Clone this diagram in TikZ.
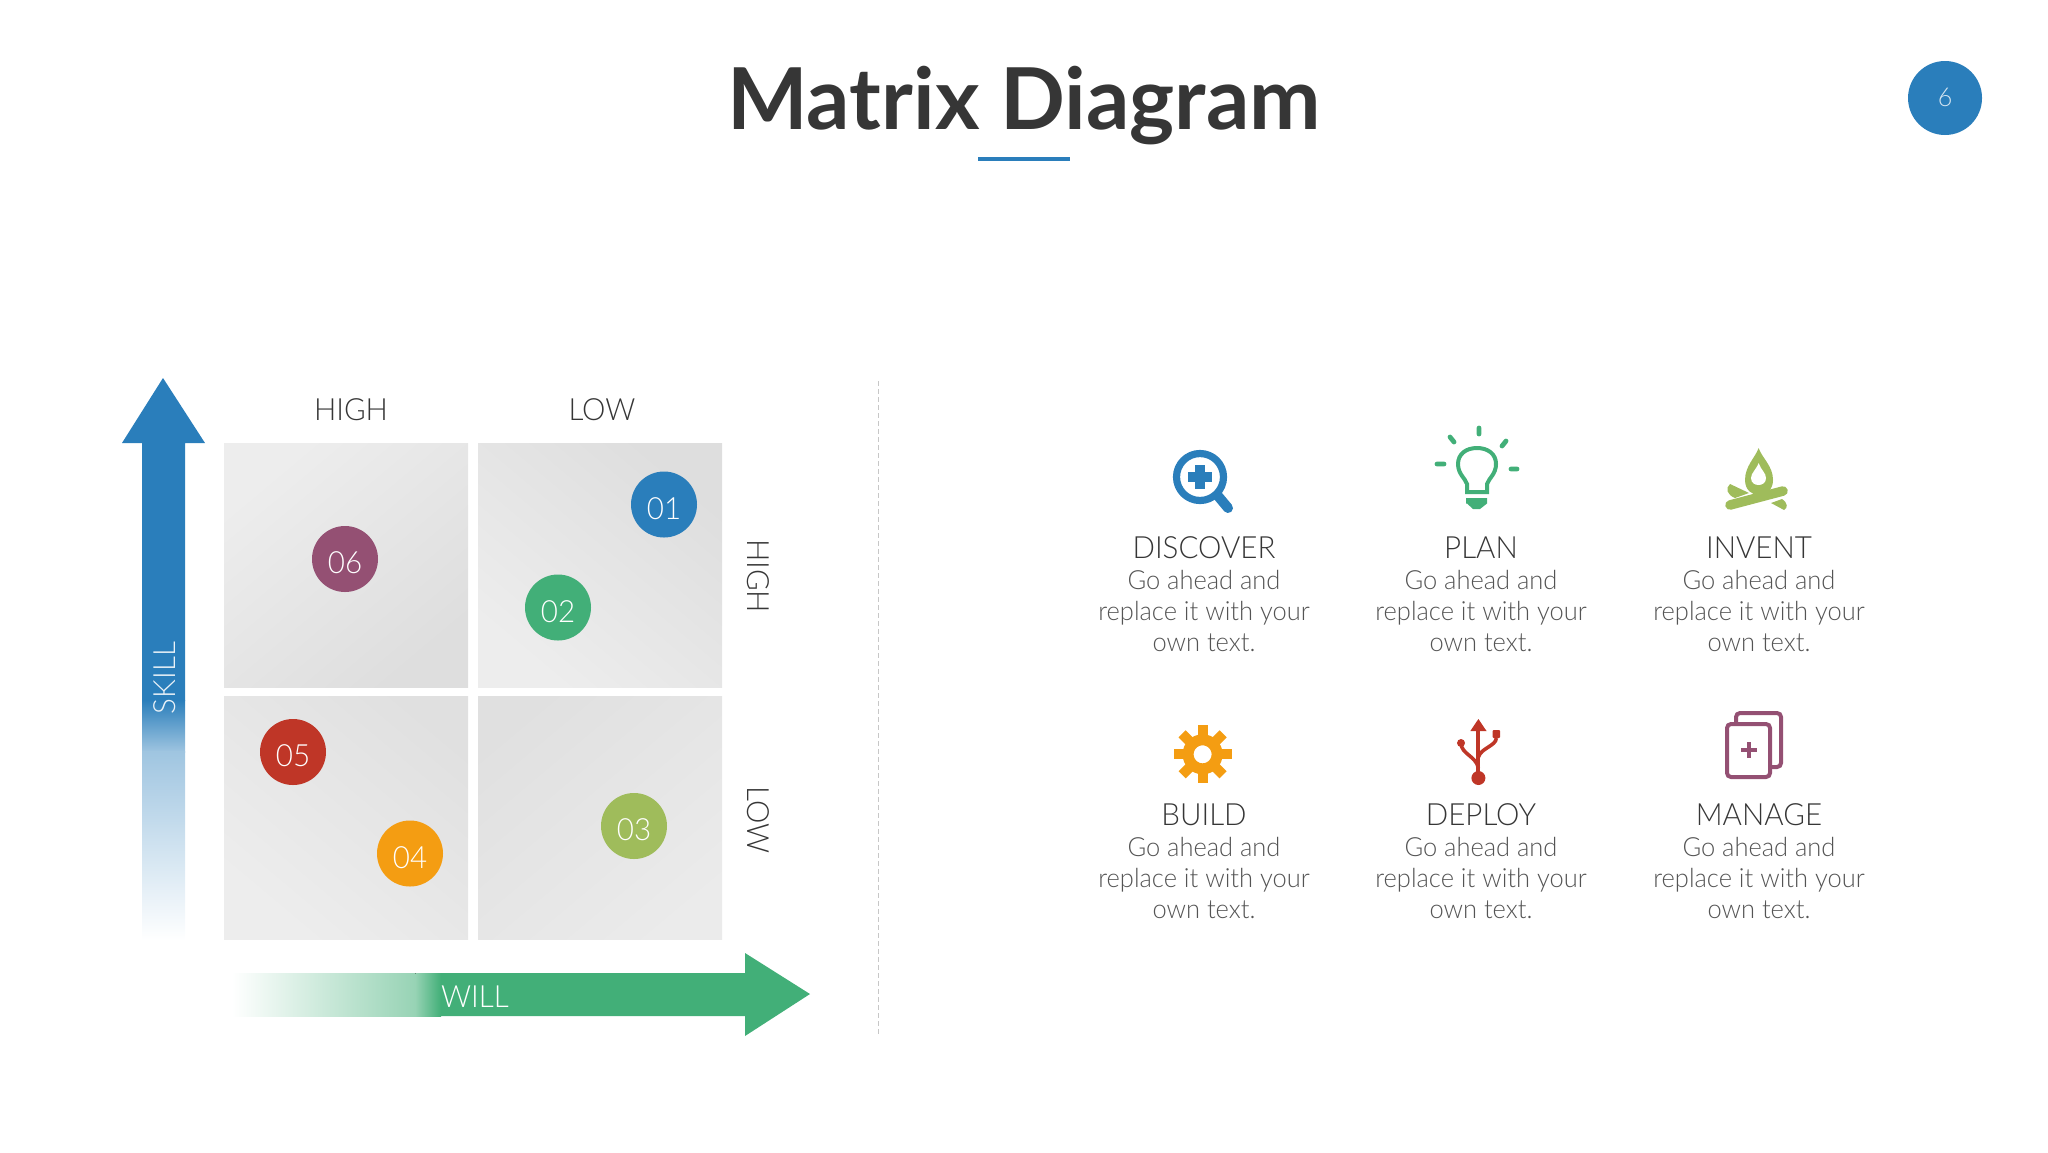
\documentclass[tikz,border=0pt]{standalone}
\usepackage{fontspec}
\setmainfont{Lato}
\newfontfamily\lightfont[FakeStretch=.965]{Lato Light}
\usetikzlibrary{calc}
\definecolor{ink}{HTML}{363636}
\definecolor{mblue}{HTML}{2A7EBB}
\definecolor{mgreen}{HTML}{42AF78}
\definecolor{mlime}{HTML}{9FBC5B}
\definecolor{morange}{HTML}{F49D12}
\definecolor{mred}{HTML}{BF3627}
\definecolor{mpurple}{HTML}{945073}
\tikzset{
  dot/.style={draw=none,shape=circle,fill=#1,inner sep=0pt,minimum size=33pt,text=white,text height=14.5pt,text depth=0pt,font=\lightfont\fontsize{15.3}{18}\selectfont},
  axislabel/.style={text=ink,inner sep=0pt,font=\lightfont\fontsize{15.3}{18}\selectfont},
  itemhead/.style={text=ink,inner sep=0pt,font=\lightfont\fontsize{15.3}{18}\selectfont},
  itembody/.style={text=ink!85,inner sep=0pt,align=center,font=\lightfont\fontsize{13.2}{15.4}\selectfont},
}
\begin{document}
\begin{tikzpicture}[x=.5pt,y=-.5pt]
  \useasboundingbox (0,0) rectangle (2048,1152);
  % title
  \node[text=ink,inner sep=0pt,font=\fontsize{42.7}{50}\bfseries\selectfont] (title) at (1024,106) {Matrix Diagram};
  \fill[mblue] (978,157) rectangle (1070,161);
  \node[dot=mblue,minimum size=37pt,text height=8pt,font=\lightfont\fontsize{13}{15}\selectfont,text=white!80!mblue] (page) at (1945,98) {6};
  % quadrants
  \fill[top color=black!7,bottom color=black!13,shading angle=40] (224,443) rectangle (468,687);
  \fill[top color=black!13,bottom color=black!7,shading angle=-40] (478,443) rectangle (722,687);
  \fill[top color=black!12,bottom color=black!7,shading angle=-40] (224,696) rectangle (468,939);
  \fill[top color=black!12,bottom color=black!8,shading angle=40] (478,696) rectangle (722,939);
  % skill arrow
  \fill[mblue] (163,378) -- (205,443) -- (185,443) -- (185,701) -- (142,701) -- (142,443) -- (122,443) -- cycle;
  \fill[top color=mblue,bottom color=mblue!45] (142,700) rectangle (185,752);
  \fill[top color=mblue!45,bottom color=white] (142,751.5) rectangle (185,940);
  \node[axislabel,text=white!90!mblue,rotate=90] (skill) at (165,678) {SKILL};
  % will arrow
  \fill[mgreen] (810,994) -- (745,953) -- (745,973) -- (440,973) -- (440,1016) -- (745,1016) -- (745,1036) -- cycle;
  \fill[left color=mgreen!55,right color=mgreen] (415,973) rectangle (441,1016);
  \fill[left color=white,right color=mgreen!55] (232,973) rectangle (415.5,1016);
  \node[axislabel,text=white] (will) at (475,997) {WILL};
  % axis labels
  \node[axislabel] (xhigh) at (351,410) {HIGH};
  \node[axislabel] (xlow) at (602,410) {LOW};
  \node[axislabel,rotate=-90] (yhigh) at (758,576) {HIGH};
  \node[axislabel,rotate=-90] (ylow) at (758,820) {LOW};
  \draw[black!22,line width=.5pt,dash pattern=on 2.5pt off 1.5pt] (878,381) -- (878,1036);
  % dots
  \node[dot=mblue] (d1) at (664,504.5) {01};
  \node[dot=mgreen] (d2) at (558,607.5) {02};
  \node[dot=mlime] (d3) at (634,826) {03};
  \node[dot=morange] (d4) at (410,853.5) {04};
  \node[dot=mred] (d5) at (293,752) {05};
  \node[dot=mpurple] (d6) at (345,559) {06};
  % items
  \foreach \nm/\tx/\ty/\lab in {a/1204/548/DISCOVER,b/1481/548/PLAN,c/1759/548/INVENT,d/1204/815/BUILD,e/1481/815/DEPLOY,f/1759/815/MANAGE}{
    \node[itemhead] (h\nm) at (\tx,\ty) {\lab};
    \node[itembody,anchor=north] (t\nm) at ([yshift=-2pt]\tx,\ty+18) {Go ahead and\\replace it with your\\own text.};
  }
  % discover icon
  \draw[mblue,line width=3.6pt] (1200,477) circle (23.5);
  \draw[mblue,line width=5pt,line cap=round] (1218,496) -- (1228,508);
  \draw[mblue,line width=4.6pt] (1188,477) -- (1212,477) (1200,465) -- (1200,489);
  % plan icon
  \draw[mgreen,line width=2pt] (1467,492) -- (1467,484) .. controls (1465,478) and (1458,474) .. (1458,464) .. controls (1458,454) and (1466,448) .. (1477,448) .. controls (1488,448) and (1496,454) .. (1496,464) .. controls (1496,474) and (1489,478) .. (1487,484) -- (1487,492) -- cycle;
  \fill[mgreen] (1466,498) rectangle (1487,503.5) (1467,503.5) -- (1487,503.5) -- (1480,509) -- (1473,509) -- cycle;
  \draw[mgreen,line width=2.4pt,line cap=round] (1479,428) -- (1479,434) (1450,437) -- (1454,442) (1506,441) -- (1502,446) (1437,464) -- (1444,464) (1511,469) -- (1517,469);
  % invent icon
  \fill[mlime] (1758.6,448) .. controls (1755,458) and (1745,466) .. (1745,480) .. controls (1745,490) and (1752,495) .. (1758.6,495) .. controls (1766,495) and (1773,490) .. (1773,480) .. controls (1773,466) and (1762,458) .. (1758.6,448) -- cycle;
  \fill[white] (1758.6,463) .. controls (1756,470) and (1751,473) .. (1751,478) .. controls (1751,483) and (1755,485) .. (1758.6,485) .. controls (1762,485) and (1766,483) .. (1766,478) .. controls (1766,473) and (1761,470) .. (1758.6,463) -- cycle;
  \draw[mlime,line width=4.8pt,line cap=round] (1730,505) -- (1783,491);
  \fill[mlime] (1730,484) -- (1749,493) -- (1735,498) .. controls (1727,495) and (1725,488) .. (1730,484) -- cycle;
  \fill[mlime] (1771,503) -- (1782,499) .. controls (1788,503) and (1788,508) .. (1784,510) -- cycle;
  % build icon
  \foreach \a in {0,45,...,315}
    \draw[morange,line width=5pt] ($(1202.6,754.3)+(\a:17)$) -- ($(1202.6,754.3)+(\a:29)$);
  \draw[morange,line width=5.5pt] (1202.6,754.3) circle (14.5);
  % deploy icon
  \fill[mred] (1478.4,719) -- (1486.5,731) -- (1470.3,731) -- cycle;
  \draw[mred,line width=2pt] (1478.4,730) -- (1478.4,775);
  \fill[mred] (1478.4,778) circle (7);
  \fill[mred] (1461,743) circle (4);
  \fill[mred,rounded corners=.5pt] (1492.5,730) rectangle (1500,738);
  \draw[mred,line width=1.8pt] (1461,743) .. controls (1461,754) and (1476,756) .. (1478.4,768);
  \draw[mred,line width=1.8pt] (1496.3,738) .. controls (1496,746) and (1481,748) .. (1478.4,757);
  % manage icon
  \draw[mpurple,line width=2pt,rounded corners=2pt] (1736,722.7) -- (1736,713) -- (1781,713) -- (1781,767) -- (1771,767);
  \draw[mpurple,line width=2pt,rounded corners=2pt] (1727,724) rectangle (1770,777);
  \draw[mpurple,line width=1.8pt] (1741,750) -- (1757,750) (1749,742) -- (1749,758);
\end{tikzpicture}
\end{document}
